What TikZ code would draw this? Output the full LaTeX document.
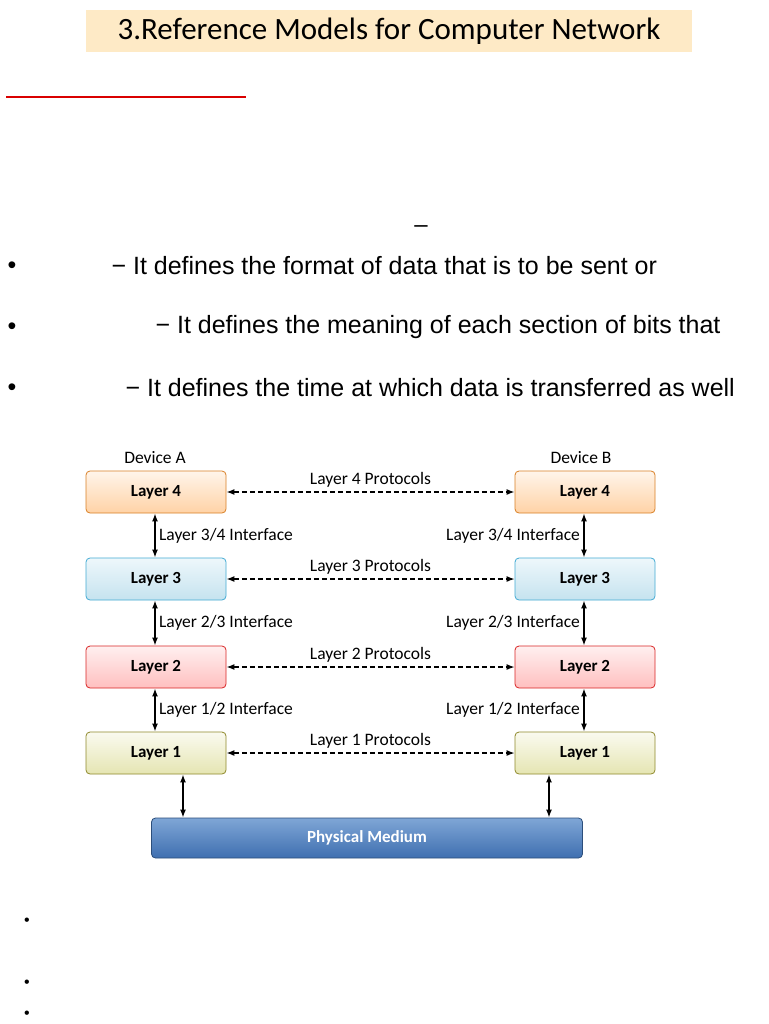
\documentclass[tikz,border=0pt]{standalone}
\usepackage{fontspec}
\setmainfont{Carlito}
\newfontfamily\arialf{Liberation Sans}
\usetikzlibrary{arrows.meta}
\definecolor{pmtop}{HTML}{7FA6D6}
\definecolor{pmbot}{HTML}{3F6FB0}
\definecolor{bltop}{HTML}{EEF7FB}
\definecolor{blbot}{HTML}{C5E3EF}
\begin{document}
\begin{tikzpicture}[x=1pt,y=-1pt,
  lay/.style={draw=#1!70!gray, line width=0.8pt, rounded corners=4pt, minimum width=140pt, minimum height=42pt, font=\fontsize{17}{19}\selectfont\bfseries},
  lbl/.style={font=\fontsize{17.5}{19}\selectfont},
  bul/.style={font=\arialf\fontsize{25}{28}\selectfont, anchor=west},
  dar/.style={dashed, dash pattern=on 5pt off 3pt, {Latex[length=8pt]}-{Latex[length=8pt]}, line width=1.3pt},
  sar/.style={{Latex[length=8pt]}-{Latex[length=8pt]}, line width=1.5pt}]
\useasboundingbox (0,0) rectangle (768,1024);
\fill[white] (0,0) rectangle (768,1024);
\node[fill=yellow!25!orange!20, minimum width=606pt, minimum height=42pt, font=\fontsize{31}{34}\selectfont] (title) at (389,31) {3.Reference Models for Computer Network};
\coordinate (r1) at (6,97); \coordinate (r2) at (246,97);
\draw[red!85!black, line width=1.4pt] (r1) -- (r2);
\node[font=\arialf\fontsize{24}{28}\selectfont] (dash) at (421,229) {–};
\node[bul] (b1) at (4,268) {•}; \node[bul] (t1) at (108,266) {− It defines the format of data that is to be sent or};
\node[bul] (b2) at (4,329) {•}; \node[bul] (t2) at (152,327) {− It defines the meaning of each section of bits that};
\node[bul] (b3) at (4,390) {•}; \node[bul] (t3) at (122,388) {− It defines the time at which data is transferred as well};
\node[lay=orange, top color=orange!8, bottom color=orange!35] (A4) at (156,492) {Layer 4};
\node[lay=orange, top color=orange!8, bottom color=orange!35] (B4) at (585,492) {Layer 4};
\node[lay=cyan, top color=bltop, bottom color=blbot] (A3) at (156,579) {Layer 3};
\node[lay=cyan, top color=bltop, bottom color=blbot] (B3) at (585,579) {Layer 3};
\node[lay=red, top color=red!6, bottom color=red!25] (A2) at (156,667) {Layer 2};
\node[lay=red, top color=red!6, bottom color=red!25] (B2) at (585,667) {Layer 2};
\node[lay=olive, top color=olive!4, bottom color=olive!20] (A1) at (156,753) {Layer 1};
\node[lay=olive, top color=olive!4, bottom color=olive!20] (B1) at (585,753) {Layer 1};
\node[draw=pmbot!70!black, line width=0.8pt, rounded corners=4pt, top color=pmtop, bottom color=pmbot, minimum width=431pt, minimum height=40pt, text=white, font=\fontsize{17}{19}\selectfont\bfseries] (PM) at (367,838) {Physical Medium};
\node[lbl] (da) at (155,458) {Device A};
\node[lbl] (db) at (581,458) {Device B};
\foreach \n in {4,3,2,1}{
  \draw[dar] (A\n) -- node[lbl, above, yshift=1pt] {Layer \n{} Protocols} (B\n);
}
\foreach \u/\l/\t in {4/3/3\slash4,3/2/2\slash3,2/1/1\slash2}{
  \draw[sar] (A\u.south -| 155,0) -- node[lbl, right, xshift=0pt] {Layer \t{} Interface} (A\l.north -| 155,0);
  \draw[sar] (B\u.south -| 584,0) -- node[lbl, left, xshift=0pt] {Layer \t{} Interface} (B\l.north -| 584,0);
}
\draw[sar] (A1.south -| 183,0) -- (PM.north -| 183,0);
\draw[sar] (B1.south -| 549,0) -- (PM.north -| 549,0);
\node[font=\arialf\fontsize{16}{18}\selectfont] (c1) at (27,922) {•};
\node[font=\arialf\fontsize{16}{18}\selectfont] (c2) at (27,984) {•};
\node[font=\arialf\fontsize{16}{18}\selectfont] (c3) at (27,1015) {•};
\end{tikzpicture}
\end{document}
